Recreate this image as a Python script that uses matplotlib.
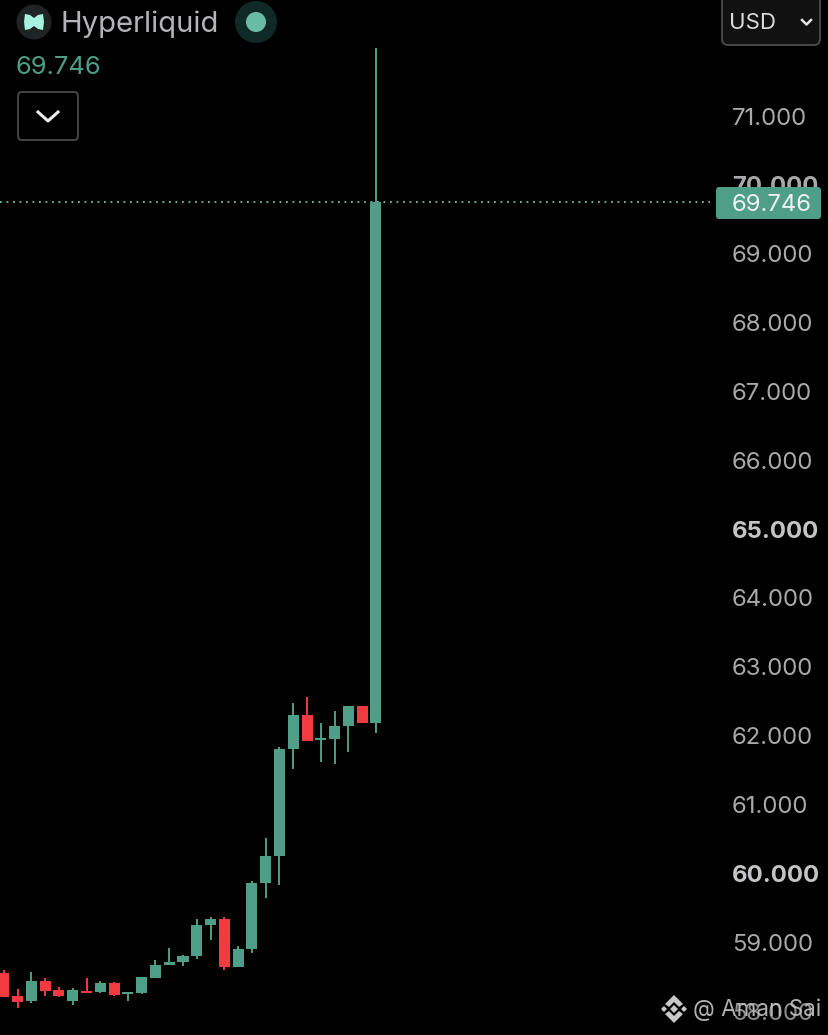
import matplotlib
matplotlib.use("Agg")
import matplotlib.pyplot as plt
from matplotlib.patches import Circle, FancyBboxPatch, Polygon
from matplotlib.transforms import Affine2D, blended_transform_factory

# Candles, oldest first
opens = [58.547, 58.218, 58.141, 58.441, 58.300, 58.141, 58.296, 58.271, 58.402, 58.252,
         58.262, 58.484, 58.664, 58.712, 58.804, 59.245, 59.332, 58.635, 58.901, 59.860,
         60.252, 61.806, 62.300, 61.937, 61.951, 62.140, 62.431, 62.184]
closes = [58.209, 58.136, 58.441, 58.296, 58.213, 58.300, 58.267, 58.407, 58.238, 58.276,
          58.489, 58.664, 58.712, 58.804, 59.245, 59.332, 58.639, 58.901, 59.859, 60.252,
          61.806, 62.300, 61.922, 61.966, 62.140, 62.431, 62.184, 69.746]
highs = [58.596, 58.320, 58.562, 58.475, 58.344, 58.330, 58.475, 58.431, 58.422, 58.276,
         58.499, 58.741, 58.920, 58.814, 59.332, 59.366, 59.361, 58.949, 59.888, 60.513,
         61.835, 62.474, 62.561, 62.184, 62.358, 62.431, 62.431, 71.988]
lows = [58.199, 58.039, 58.112, 58.223, 58.208, 58.087, 58.267, 58.267, 58.223, 58.141,
        58.242, 58.484, 58.664, 58.659, 58.760, 59.036, 58.596, 58.635, 58.848, 59.642,
        59.831, 61.516, 61.922, 61.617, 61.588, 61.763, 62.184, 62.039]

tick_values = [71, 69, 68, 67, 66, 65, 64, 63, 62, 61, 60, 59]
tick_labels = ["71.000", "69.000", "68.000", "67.000", "66.000", "65.000",
               "64.000", "63.000", "62.000", "61.000", "60.000", "59.000"]
bold_ticks = ["65.000", "60.000"]
last_price = 69.746

GREEN = "#4F9E88"
RED = "#F23B3F"
LABEL = "#A9A9AC"
TICK_SIZE = 17.2

plt.rcParams["font.family"] = ["Inter", "DejaVu Sans"]

W, H = 829, 1035
fig = plt.figure(figsize=(W / 100, H / 100), dpi=100, facecolor="black")
ax = fig.add_axes([0, 0, 1, 1])
ax.set_facecolor("black")
ax.set_xlim(-0.28, 59.88)
ax.set_ylim(57.652, 72.685)
ax.axis("off")

# screen pixels, y going down, for the app chrome around the chart
px = Affine2D().scale(1 / W, -1 / H).translate(0, 1) + fig.transFigure
px_price = blended_transform_factory(px, ax.transData)


def axis_label(value, label, color, weight="normal", zorder=4):
    ax.annotate(label, xy=(732, value), xycoords=px_price, xytext=(0, -2.5),
                textcoords="offset pixels", color=color, fontsize=TICK_SIZE,
                fontweight=weight, va="center", ha="left", zorder=zorder)


for i in range(len(opens)):
    color = GREEN if closes[i] >= opens[i] else RED
    ax.vlines(i, lows[i], highs[i], color=color, lw=1.4, zorder=2)
    ax.bar(i, abs(closes[i] - opens[i]), bottom=min(opens[i], closes[i]),
           width=0.8, color=color, zorder=3)

ax.axhline(last_price, xmin=0, xmax=710 / W, color="#6FBFA8", lw=1.3, ls=(0, (1, 2.6)), zorder=1)

for value, label in zip(tick_values, tick_labels):
    if label in bold_ticks:
        axis_label(value, label, "#C4C4C6", weight="bold")
    else:
        axis_label(value, label, LABEL)

# 70.000 sits half under the price tag, 58.000 under the watermark
axis_label(70, "70.000", LABEL, weight="bold")
axis_label(58, "58.000", "#8C8C8E", zorder=6)

ax.add_patch(FancyBboxPatch((716, 187), 105, 32, boxstyle="round,pad=0,rounding_size=3",
                            transform=px, fc=GREEN, ec="none", zorder=5))
ax.text(732, 205, "69.746", transform=px, color="#F2F2F2", fontsize=TICK_SIZE,
        va="center", ha="left", zorder=6)

# header
ax.add_patch(Circle((34, 22), 17.5, transform=px, fc="#1E2423", ec="none", zorder=5))
ax.add_patch(Polygon([(25, 14), (30, 15), (34, 18), (38, 15), (43, 14), (44, 22), (43, 30),
                      (38, 29), (34, 26), (30, 29), (25, 30), (24, 22)],
                     transform=px, fc="#A6F3E0", ec="none", zorder=6))
ax.text(61, 24, "Hyperliquid", transform=px, color="#B4B4B8", fontsize=21,
        va="center", ha="left", zorder=6)
ax.add_patch(Circle((256, 22), 21, transform=px, fc="#0F2A26", ec="none", zorder=5))
ax.add_patch(Circle((256, 22), 10, transform=px, fc="#68BBA5", ec="none", zorder=6))
ax.text(16, 68, "69.746", transform=px, color=GREEN, fontsize=18.4,
        va="center", ha="left", zorder=6)

ax.add_patch(FancyBboxPatch((18, 92), 60, 48, boxstyle="round,pad=0,rounding_size=4",
                            transform=px, fc="black", ec="#4A4A4A", lw=1.3, zorder=5))
ax.plot([38, 48, 58], [112, 121, 112], transform=px, color="#EDEDED", lw=2.2, zorder=6)

ax.add_patch(FancyBboxPatch((722, -6), 98, 51, boxstyle="round,pad=0,rounding_size=6",
                            transform=px, fc="#111111", ec="#4C4C4C", lw=1.3, zorder=5))
ax.text(729, 23, "USD", transform=px, color="#DADADA", fontsize=16,
        va="center", ha="left", zorder=6)
ax.plot([802, 806.5, 811], [20, 24.5, 20], transform=px, color="#E4E4E4", lw=1.8, zorder=6)

# watermark
cx, cy = 674, 1009
diamonds = [(0, 0, 4), (-10, 0, 3), (10, 0, 3)]
for dx, dy, r in diamonds:
    ax.add_patch(Polygon([(cx + dx - r, cy + dy), (cx + dx, cy + dy - r),
                          (cx + dx + r, cy + dy), (cx + dx, cy + dy + r)],
                         transform=px, fc="#C8C8C8", ec="none", zorder=7))
ax.add_patch(Polygon([(cx - 9, cy - 5), (cx, cy - 14), (cx + 9, cy - 5), (cx + 5, cy - 2),
                      (cx, cy - 7), (cx - 5, cy - 2)], transform=px, fc="#C8C8C8", ec="none", zorder=7))
ax.add_patch(Polygon([(cx - 9, cy + 5), (cx, cy + 14), (cx + 9, cy + 5), (cx + 5, cy + 2),
                      (cx, cy + 7), (cx - 5, cy + 2)], transform=px, fc="#C8C8C8", ec="none", zorder=7))
ax.text(693, 1010, "@ Aman Sai", transform=px, color="#C4C4C4", fontsize=16.2, alpha=0.9,
        va="center", ha="left", zorder=7)

fig.savefig("out.png", dpi=100, facecolor="black")
